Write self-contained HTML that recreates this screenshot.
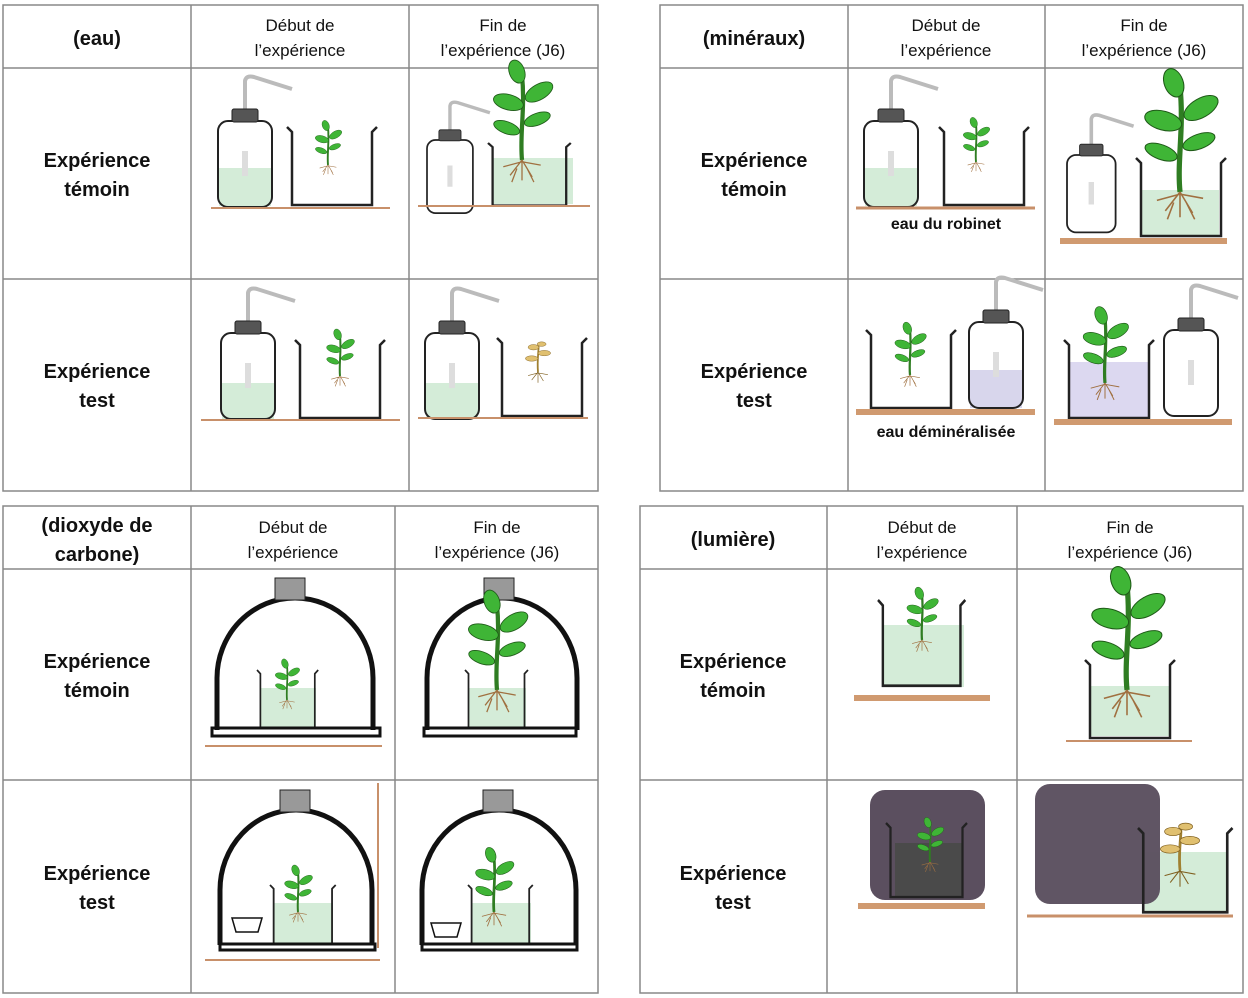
<!DOCTYPE html>
<html><head><meta charset="utf-8"><style>
body{margin:0;background:#fff;width:1248px;height:998px;overflow:hidden}
svg{display:block}
text{font-family:"Liberation Sans","DejaVu Sans",sans-serif}
.h{font-size:17px;fill:#111;text-anchor:middle}
.l{font-size:20px;font-weight:bold;fill:#111;text-anchor:middle}
.s{font-size:16px;font-weight:bold;fill:#111;text-anchor:middle}
</style></head><body>
<svg width="1248" height="998" viewBox="0 0 1248 998">
<defs>
<g id="plant">
<path d="M0,0 C-3,-30 4,-60 0,-100" stroke="#2f7d22" stroke-width="5" fill="none"/>
<ellipse cx="-18" cy="-38" rx="16" ry="7" fill="#3fb536" stroke="#1f5a18" stroke-width="1" transform="rotate(20 -18 -38)"/>
<ellipse cx="18" cy="-48" rx="16" ry="7" fill="#3fb536" stroke="#1f5a18" stroke-width="1" transform="rotate(-20 18 -48)"/>
<ellipse cx="-16" cy="-68" rx="18" ry="9" fill="#3fb536" stroke="#1f5a18" stroke-width="1" transform="rotate(15 -16 -68)"/>
<ellipse cx="20" cy="-80" rx="18" ry="9" fill="#3fb536" stroke="#1f5a18" stroke-width="1" transform="rotate(-30 20 -80)"/>
<ellipse cx="-6" cy="-104" rx="9" ry="14" fill="#3fb536" stroke="#1f5a18" stroke-width="1" transform="rotate(-20 -6 -104)"/>
<path d="M0,0 L-14,18 M0,0 L12,20 M0,0 L0,24 M0,2 L-22,8 M0,2 L22,6 M-6,10 L-12,26 M6,10 L14,26" stroke="#a07040" stroke-width="1.5" fill="none"/>
</g>
<g id="wplant">
<path d="M0,0 C-3,-30 4,-60 0,-60" stroke="#a08030" stroke-width="4" fill="none"/>
<ellipse cx="-14" cy="-30" rx="14" ry="6" fill="#e0c070" stroke="#806020"/>
<ellipse cx="14" cy="-42" rx="14" ry="6" fill="#e0c070" stroke="#806020"/>
<ellipse cx="-10" cy="-55" rx="12" ry="6" fill="#e0c070" stroke="#806020"/>
<ellipse cx="8" cy="-62" rx="10" ry="5" fill="#e0c070" stroke="#806020"/>
<path d="M0,0 L-14,18 M0,0 L12,20 M0,0 L0,24 M0,2 L-22,8 M0,2 L22,6" stroke="#806020" stroke-width="1.5" fill="none"/>
</g>
<g id="bottle">
<path d="M27,-12 L27,-40 Q28,-46 36,-44 L74,-32" stroke="#bbb" stroke-width="4" fill="none"/>
<rect x="0" y="0" width="54" height="86" rx="10" fill="none" stroke="#222" stroke-width="2"/>
<rect x="14" y="-12" width="26" height="13" rx="2" fill="#555" stroke="#222"/>
<rect x="24" y="30" width="6" height="25" fill="#ddd"/>
</g>
<g id="beaker">
<path d="M0,0 L5,5 L5,78 L85,78 L85,5 L90,0" stroke="#222" stroke-width="2.5" fill="none"/>
</g>
</defs>

<!-- grids -->
<g stroke="#888" stroke-width="1.5" fill="none">
<rect x="3" y="5" width="595" height="486"/><line x1="191" y1="5" x2="191" y2="491"/><line x1="409" y1="5" x2="409" y2="491"/><line x1="3" y1="68" x2="598" y2="68"/><line x1="3" y1="279" x2="598" y2="279"/>
<rect x="660" y="5" width="583" height="486"/><line x1="848" y1="5" x2="848" y2="491"/><line x1="1045" y1="5" x2="1045" y2="491"/><line x1="660" y1="68" x2="1243" y2="68"/><line x1="660" y1="279" x2="1243" y2="279"/>
<rect x="3" y="506" width="595" height="487"/><line x1="191" y1="506" x2="191" y2="993"/><line x1="395" y1="506" x2="395" y2="993"/><line x1="3" y1="569" x2="598" y2="569"/><line x1="3" y1="780" x2="598" y2="780"/>
<rect x="640" y="506" width="603" height="487"/><line x1="827" y1="506" x2="827" y2="993"/><line x1="1017" y1="506" x2="1017" y2="993"/><line x1="640" y1="569" x2="1243" y2="569"/><line x1="640" y1="780" x2="1243" y2="780"/>
</g>

<!-- headers -->
<text class="l" x="97" y="45" font-weight="bold">(eau)</text>
<text class="h" x="300" y="31">Début de</text><text class="h" x="300" y="56">l’expérience</text>
<text class="h" x="503" y="31">Fin de</text><text class="h" x="503" y="56">l’expérience (J6)</text>
<text class="l" x="754" y="45">(minéraux)</text>
<text class="h" x="946" y="31">Début de</text><text class="h" x="946" y="56">l’expérience</text>
<text class="h" x="1144" y="31">Fin de</text><text class="h" x="1144" y="56">l’expérience (J6)</text>
<text class="l" x="97" y="532">(dioxyde de</text><text class="l" x="97" y="561">carbone)</text>
<text class="h" x="293" y="533">Début de</text><text class="h" x="293" y="558">l’expérience</text>
<text class="h" x="497" y="533">Fin de</text><text class="h" x="497" y="558">l’expérience (J6)</text>
<text class="l" x="733" y="546">(lumière)</text>
<text class="h" x="922" y="533">Début de</text><text class="h" x="922" y="558">l’expérience</text>
<text class="h" x="1130" y="533">Fin de</text><text class="h" x="1130" y="558">l’expérience (J6)</text>

<text class="l" x="97" y="167">Expérience</text><text class="l" x="97" y="196">témoin</text>
<text class="l" x="97" y="378">Expérience</text><text class="l" x="97" y="407">test</text>
<text class="l" x="754" y="167">Expérience</text><text class="l" x="754" y="196">témoin</text>
<text class="l" x="754" y="378">Expérience</text><text class="l" x="754" y="407">test</text>
<text class="l" x="97" y="668">Expérience</text><text class="l" x="97" y="697">témoin</text>
<text class="l" x="97" y="880">Expérience</text><text class="l" x="97" y="909">test</text>
<text class="l" x="733" y="668">Expérience</text><text class="l" x="733" y="697">témoin</text>
<text class="l" x="733" y="880">Expérience</text><text class="l" x="733" y="909">test</text>

<!-- T1 r1 -->
<rect x="219" y="168" width="52" height="38" fill="#d4ecd8"/>
<use href="#bottle" transform="translate(218,121)"/>
<use href="#plant" transform="translate(328,165) scale(0.38)"/>
<use href="#beaker" transform="translate(287,127)"/>
<line x1="211" y1="208" x2="390" y2="208" stroke="#c8906a" stroke-width="2"/>
<use href="#bottle" transform="translate(427,140) scale(0.85)"/>
<rect x="493" y="158" width="80" height="46" fill="#d4ecd8"/>
<use href="#plant" transform="translate(522,160) scale(0.85)"/>
<use href="#beaker" transform="translate(488,143) scale(0.92,0.8)"/>
<line x1="418" y1="206" x2="590" y2="206" stroke="#c8906a" stroke-width="2"/>
<!-- T1 r2 -->
<rect x="222" y="383" width="52" height="36" fill="#d4ecd8"/>
<use href="#bottle" transform="translate(221,333)"/>
<use href="#plant" transform="translate(340,376) scale(0.4)"/>
<use href="#beaker" transform="translate(295,340)"/>
<line x1="201" y1="420" x2="400" y2="420" stroke="#c8906a" stroke-width="2"/>
<rect x="426" y="383" width="52" height="34" fill="#d4ecd8"/>
<use href="#bottle" transform="translate(425,333)"/>
<use href="#wplant" transform="translate(538,372) scale(0.45)"/>
<use href="#beaker" transform="translate(497,338)"/>
<line x1="418" y1="418" x2="588" y2="418" stroke="#c8906a" stroke-width="2"/>

<!-- T2 r1 -->
<rect x="865" y="168" width="52" height="38" fill="#d4ecd8"/>
<use href="#bottle" transform="translate(864,121)"/>
<use href="#plant" transform="translate(976,162) scale(0.38)"/>
<use href="#beaker" transform="translate(939,127)"/>
<line x1="856" y1="208" x2="1035" y2="208" stroke="#c8906a" stroke-width="3"/>
<text class="s" x="946" y="229">eau du robinet</text>
<use href="#bottle" transform="translate(1067,155) scale(0.9)"/>
<rect x="1141" y="190" width="78" height="47" fill="#d4ecd8"/>
<use href="#plant" transform="translate(1180,192) scale(1.05)"/>
<use href="#beaker" transform="translate(1136,158)"/>
<rect x="1060" y="238" width="167" height="6" fill="#d09a70"/>
<!-- T2 r2 -->
<use href="#plant" transform="translate(910,375) scale(0.45)"/>
<use href="#beaker" transform="translate(866,330)"/>
<rect x="970" y="370" width="52" height="38" fill="#d8d6ec"/>
<use href="#bottle" transform="translate(969,322)"/>
<rect x="856" y="409" width="179" height="6" fill="#d09a70"/>
<text class="s" x="946" y="437">eau déminéralisée</text>
<rect x="1070" y="362" width="80" height="55" fill="#dcd8f0"/>
<use href="#plant" transform="translate(1105,383) scale(0.65)"/>
<use href="#beaker" transform="translate(1064,340)"/>
<use href="#bottle" transform="translate(1164,330)"/>
<rect x="1054" y="419" width="178" height="6" fill="#d09a70"/>

<!-- T3 r1 -->
<g stroke="#111" fill="none">
<path d="M217,730 L217,678 A78,80 0 0 1 373,678 L373,730" stroke-width="5"/>
<path d="M427,730 L427,678 A75,80 0 0 1 577,678 L577,730" stroke-width="5"/>
<path d="M220,945 L220,890 A76,80 0 0 1 372,890 L372,945" stroke-width="5"/>
<path d="M422,945 L422,890 A77,80 0 0 1 576,890 L576,945" stroke-width="5"/>
</g>
<rect x="275" y="578" width="30" height="22" fill="#999" stroke="#222"/>
<rect x="484" y="578" width="30" height="22" fill="#999" stroke="#222"/>
<rect x="280" y="790" width="30" height="22" fill="#999" stroke="#222"/>
<rect x="483" y="790" width="30" height="22" fill="#999" stroke="#222"/>
<rect x="260" y="688" width="56" height="40" fill="#d4ecd8"/>
<use href="#plant" transform="translate(287,700) scale(0.35)"/>
<use href="#beaker" transform="translate(257,670) scale(0.68,0.75)"/>
<rect x="212" y="728" width="168" height="8" fill="none" stroke="#111" stroke-width="3"/>
<line x1="205" y1="746" x2="382" y2="746" stroke="#c8906a" stroke-width="2"/>
<rect x="468" y="688" width="58" height="40" fill="#d4ecd8"/>
<use href="#plant" transform="translate(497,690) scale(0.85)"/>
<use href="#beaker" transform="translate(465,670) scale(0.7,0.75)"/>
<rect x="424" y="728" width="152" height="8" fill="none" stroke="#111" stroke-width="3"/>
<!-- T3 r2 -->
<rect x="273" y="903" width="60" height="40" fill="#d4ecd8"/>
<use href="#plant" transform="translate(298,912) scale(0.4)"/>
<use href="#beaker" transform="translate(270,885) scale(0.73,0.75)"/>
<path d="M232,918 L262,918 L258,932 L236,932 Z" fill="#fff" stroke="#111" stroke-width="1.5"/>
<rect x="220" y="944" width="155" height="6" fill="none" stroke="#111" stroke-width="3"/>
<line x1="378" y1="783" x2="378" y2="948" stroke="#c8906a" stroke-width="2"/>
<line x1="205" y1="960" x2="380" y2="960" stroke="#c8906a" stroke-width="2"/>
<rect x="471" y="903" width="60" height="40" fill="#d4ecd8"/>
<use href="#plant" transform="translate(494,912) scale(0.55)"/>
<use href="#beaker" transform="translate(468,885) scale(0.72,0.75)"/>
<path d="M431,923 L461,923 L457,937 L435,937 Z" fill="#fff" stroke="#111" stroke-width="1.5"/>
<rect x="422" y="944" width="155" height="6" fill="none" stroke="#111" stroke-width="3"/>

<!-- T4 r1 -->
<rect x="884" y="625" width="80" height="62" fill="#d4ecd8"/>
<use href="#plant" transform="translate(922,640) scale(0.45)"/>
<use href="#beaker" transform="translate(878,600) scale(0.97,1.1)"/>
<rect x="854" y="695" width="136" height="6" fill="#d09a70"/>
<rect x="1091" y="686" width="80" height="50" fill="#d4ecd8"/>
<use href="#plant" transform="translate(1127,690) scale(1.05)"/>
<use href="#beaker" transform="translate(1085,660)"/>
<line x1="1066" y1="741" x2="1192" y2="741" stroke="#c8906a" stroke-width="2"/>
<!-- T4 r2 -->
<rect x="870" y="790" width="115" height="110" rx="15" fill="#5b4f5f"/>
<rect x="895" y="843" width="68" height="55" fill="#4a4a4a"/>
<use href="#plant" transform="translate(930,862) scale(0.38)"/>
<use href="#beaker" transform="translate(886,823) scale(0.9,0.95)"/>
<rect x="858" y="903" width="127" height="6" fill="#d09a70"/>
<rect x="1145" y="852" width="82" height="60" fill="#d4ecd8"/>
<rect x="1035" y="784" width="125" height="120" rx="15" fill="#5b4f5f" opacity="0.97"/>
<use href="#wplant" transform="translate(1180,870) scale(0.7)"/>
<use href="#beaker" transform="translate(1138,828) scale(1.05,1.08)"/>
<line x1="1027" y1="916" x2="1233" y2="916" stroke="#c8906a" stroke-width="3"/>
</svg>
</body></html>
